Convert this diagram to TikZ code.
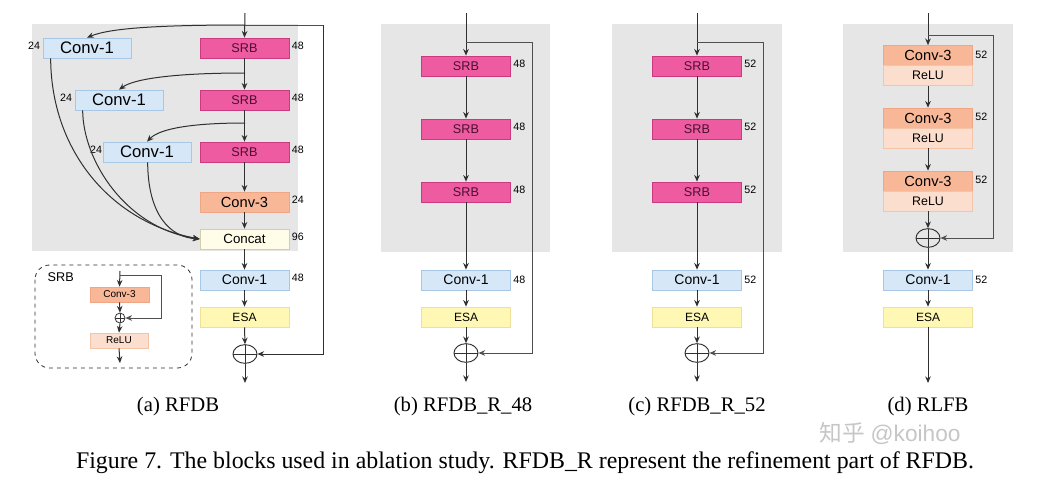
\documentclass[tikz,border=0pt]{standalone}
\usepackage{fontspec}
\setmainfont{Liberation Serif}
\setsansfont{Liberation Sans}
\newfontfamily\cjkfont{Noto Sans CJK SC}
\usetikzlibrary{arrows.meta,shapes.geometric,calc}
\definecolor{bggray}{HTML}{E6E6E6}
\definecolor{srbfill}{HTML}{EE5BA0}
\definecolor{srbdraw}{HTML}{C93A80}
\definecolor{srbtext}{HTML}{4A1030}
\definecolor{c1fill}{HTML}{D6E7F7}
\definecolor{c1draw}{HTML}{A8C6E6}
\definecolor{c3fill}{HTML}{F8B898}
\definecolor{c3draw}{HTML}{F0A584}
\definecolor{relufill}{HTML}{FBDECD}
\definecolor{reludraw}{HTML}{F3C4A8}
\definecolor{catfill}{HTML}{FFFDE8}
\definecolor{catdraw}{HTML}{CFCFA8}
\definecolor{esafill}{HTML}{FFF8B4}
\definecolor{esadraw}{HTML}{EEE098}
\definecolor{linec}{HTML}{303030}
\tikzset{
  box/.style={draw, line width=0.5pt, inner sep=0pt, minimum height=15pt, font=\sffamily},
  srbbox/.style={box, fill=srbfill, draw=srbdraw, minimum width=66.75pt, text=srbtext, font=\sffamily\fontsize{9.5}{10}\selectfont},
  cvonebox/.style={box, fill=c1fill, draw=c1draw, minimum width=66.75pt, font=\sffamily\fontsize{10.5}{11}\selectfont},
  cvleftbox/.style={box, fill=c1fill, draw=c1draw, minimum width=66pt, font=\sffamily\fontsize{12.5}{13}\selectfont},
  cvthreebox/.style={box, fill=c3fill, draw=c3draw, minimum width=66.75pt, font=\sffamily\fontsize{11}{12}\selectfont},
  relubox/.style={box, fill=relufill, draw=reludraw, minimum width=66.75pt, font=\sffamily\fontsize{9.3}{10}\selectfont},
  catbox/.style={box, fill=catfill, draw=catdraw, minimum width=66.75pt, font=\sffamily\fontsize{10}{11}\selectfont},
  esabox/.style={box, fill=esafill, draw=esadraw, minimum width=66.75pt, font=\sffamily\fontsize{9}{10}\selectfont},
  smallc3/.style={box, fill=c3fill, draw=c3draw, minimum width=44.25pt, minimum height=11.25pt, font=\sffamily\fontsize{7.5}{8}\selectfont},
  smallrelu/.style={box, fill=relufill, draw=reludraw, minimum width=43.5pt, minimum height=11.25pt, font=\sffamily\fontsize{7.5}{8}\selectfont},
  chlabel/.style={font=\sffamily\fontsize{8}{9}\selectfont, inner sep=1pt},
  plusnode/.style={ellipse, draw=linec, line width=0.7pt, minimum width=18pt, minimum height=14pt, inner sep=0pt,
    path picture={\draw[linec, line width=0.6pt] (path picture bounding box.north) -- (path picture bounding box.south)
      (path picture bounding box.west) -- (path picture bounding box.east);}},
  smallplus/.style={circle, draw=linec, line width=0.6pt, minimum size=7.5pt, inner sep=0pt,
    path picture={\draw[linec, line width=0.5pt] (path picture bounding box.north) -- (path picture bounding box.south)
      (path picture bounding box.west) -- (path picture bounding box.east);}},
  arr/.style={-{Stealth[length=5pt,width=4.2pt]}, draw=linec, line width=0.75pt},
  ln/.style={draw=linec, line width=0.75pt},
  skipln/.style={draw=linec!85, line width=0.75pt},
  subcap/.style={font=\fontsize{15.5}{17}\selectfont},
  bgpanel/.style={fill=bggray, draw=none}
}
\begin{document}
\begin{tikzpicture}[x=0.75pt,y=-0.75pt]
\useasboundingbox (0,0) rectangle (1042,486);
\fill[white] (0,0) rectangle (1042,486);

% ================= (a) RFDB =================
\fill[bggray] (32,24) rectangle (298,251);
\node[srbbox] (srbA1) at (244.5,48) {SRB};
\node[srbbox] (srbA2) at (244.5,100) {SRB};
\node[srbbox] (srbA3) at (244.5,152) {SRB};
\node[cvthreebox] (cthA) at (244.5,202) {Conv-3};
\node[catbox] (catA) at (244.5,239) {Concat};
\node[cvleftbox] (cl1) at (87,48) {Conv-1};
\node[cvleftbox] (cl2) at (119,100) {Conv-1};
\node[cvleftbox] (cl3) at (147,152) {Conv-1};
\node[cvonebox] (coA) at (244.5,280) {Conv-1};
\node[esabox] (esaA) at (244.5,317) {ESA};
\node[plusnode] (plA) at (245,354) {};

\node[chlabel, anchor=west] (lA1) at ($(srbA1.east)+(1,-2)$) {48};
\node[chlabel, anchor=west] (lA2) at ($(srbA2.east)+(1,-2)$) {48};
\node[chlabel, anchor=west] (lA3) at ($(srbA3.east)+(1,-2)$) {48};
\node[chlabel, anchor=west] (lA4) at ($(cthA.east)+(1,-2)$) {24};
\node[chlabel, anchor=west] (lA5) at ($(catA.east)+(1,-2)$) {96};
\node[chlabel, anchor=west] (lA6) at ($(coA.east)+(1,-2)$) {48};
\node[chlabel, anchor=east] (lL1) at ($(cl1.west)+(-1,-2)$) {24};
\node[chlabel, anchor=east] (lL2) at ($(cl2.west)+(-1,-2)$) {24};
\node[chlabel, anchor=east] (lL3) at ($(cl3.west)+(1,-2)$) {24};

\coordinate (inA) at (245,13);
\coordinate (jA1) at (245,25);
\coordinate (jA2) at (245,73);
\coordinate (jA3) at (245,123);
\coordinate (skA1) at (323,25);
\coordinate (skA2) at (323,354);
\coordinate (outA) at (245,383);

\draw[arr] (inA) -- (srbA1.north);
\draw[arr] (srbA1.south) -- (srbA2.north);
\draw[arr] (srbA2.south) -- (srbA3.north);
\draw[arr] (srbA3.south) -- (cthA.north);
\draw[arr] (cthA.south) -- (catA.north);
\draw[arr] (catA.south) -- (coA.north);
\draw[arr] (coA.south) -- (esaA.north);
\draw[arr] (esaA.south) -- (plA.north);
\draw[arr] (plA.south) -- (outA);
\draw[skipln] (jA1) -- (skA1);
\draw[arr] (skA1) -- (skA2) -- (plA.east);

\draw[arr] (jA1) .. controls (160,25) and (110,28) .. (cl1.north);
\draw[arr] (jA2) .. controls (180,73) and (135,78) .. (cl2.north);
\draw[arr] (jA3) .. controls (195,123) and (160,128) .. (cl3.north);

\draw[arr] ($(cl1.south west)+(8,0)$) .. controls (51,150) and (110,222) .. (catA.west);
\draw[arr] ($(cl2.south west)+(8,0)$) .. controls (83,160) and (125,228) .. (catA.west);
\draw[arr] ($(cl3.south west)+(45,0)$) .. controls (148,215) and (170,237) .. (catA.west);

% SRB inset
\draw[dashed, draw=linec, line width=0.6pt, rounded corners=11pt] (35,265) rectangle (192,368);
\node[font=\sffamily\fontsize{9.5}{10}\selectfont, anchor=west] (srbtitle) at (43,277) {SRB};
\node[smallc3] (sc3) at (119.5,294.5) {Conv-3};
\node[smallplus] (spl) at (120,318) {};
\node[smallrelu] (srl) at (119,340.5) {ReLU};
\coordinate (sin) at (120,271);
\coordinate (sj) at (120,275);
\coordinate (sk1) at (161,275);
\coordinate (sk2) at (161,318);
\coordinate (sout) at (120,363);
\draw[arr] (sin) -- (sc3.north);
\draw[arr] (sc3.south) -- (spl.north);
\draw[arr] (spl.south) -- (srl.north);
\draw[arr] (srl.south) -- (sout);
\draw[arr, draw=linec!85] (sj) -- (sk1) -- (sk2) -- (spl.east);

\node[subcap] (capA) at (178,407) {(a) RFDB};

% ================= (b) RFDB_R_48 =================
\fill[bggray] (381,24) rectangle (550,252);
\node[srbbox] (srbB1) at (466,66) {SRB};
\node[srbbox] (srbB2) at (466,129) {SRB};
\node[srbbox] (srbB3) at (466,192) {SRB};
\node[cvonebox] (coB) at (466,280) {Conv-1};
\node[esabox] (esaB) at (466,317) {ESA};
\node[plusnode] (plB) at (466,353) {};
\node[chlabel, anchor=west] (lB1) at ($(srbB1.east)+(1,-2)$) {48};
\node[chlabel, anchor=west] (lB2) at ($(srbB2.east)+(1,-2)$) {48};
\node[chlabel, anchor=west] (lB3) at ($(srbB3.east)+(1,-2)$) {48};
\node[chlabel, anchor=west] (lB4) at ($(coB.east)+(1,0)$) {48};
\coordinate (inB) at (466,13);
\coordinate (jB) at (466,42);
\coordinate (skB1) at (532,42);
\coordinate (skB2) at (532,353);
\coordinate (outB) at (466,382);
\draw[arr] (inB) -- (srbB1.north);
\draw[arr] (srbB1.south) -- (srbB2.north);
\draw[arr] (srbB2.south) -- (srbB3.north);
\draw[arr] (srbB3.south) -- (coB.north);
\draw[arr] (coB.south) -- (esaB.north);
\draw[arr] (esaB.south) -- (plB.north);
\draw[arr] (plB.south) -- (outB);
\draw[arr, draw=linec!85] (jB) -- (skB1) -- (skB2) -- (plB.east);
\node[subcap] (capB) at (463,407) {(b) RFDB\_R\_48};

% ================= (c) RFDB_R_52 =================
\fill[bggray] (612,24) rectangle (782,252);
\node[srbbox] (srbC1) at (697,66) {SRB};
\node[srbbox] (srbC2) at (697,129) {SRB};
\node[srbbox] (srbC3) at (697,192) {SRB};
\node[cvonebox] (coC) at (697,280) {Conv-1};
\node[esabox] (esaC) at (697,317) {ESA};
\node[plusnode] (plC) at (697,353) {};
\node[chlabel, anchor=west] (lC1) at ($(srbC1.east)+(1,-2)$) {52};
\node[chlabel, anchor=west] (lC2) at ($(srbC2.east)+(1,-2)$) {52};
\node[chlabel, anchor=west] (lC3) at ($(srbC3.east)+(1,-2)$) {52};
\node[chlabel, anchor=west] (lC4) at ($(coC.east)+(1,0)$) {52};
\coordinate (inC) at (697,13);
\coordinate (jC) at (697,42);
\coordinate (skC1) at (763,42);
\coordinate (skC2) at (763,353);
\coordinate (outC) at (697,382);
\draw[arr] (inC) -- (srbC1.north);
\draw[arr] (srbC1.south) -- (srbC2.north);
\draw[arr] (srbC2.south) -- (srbC3.north);
\draw[arr] (srbC3.south) -- (coC.north);
\draw[arr] (coC.south) -- (esaC.north);
\draw[arr] (esaC.south) -- (plC.north);
\draw[arr] (plC.south) -- (outC);
\draw[arr, draw=linec!85] (jC) -- (skC1) -- (skC2) -- (plC.east);
\node[subcap] (capC) at (697,407) {(c) RFDB\_R\_52};

% ================= (d) RLFB =================
\fill[bggray] (843,24) rectangle (1013,252);
\node[cvthreebox] (cD1) at (928,55.5) {Conv-3};
\node[relubox] (rD1) at (928,75.5) {ReLU};
\node[cvthreebox] (cD2) at (928,118) {Conv-3};
\node[relubox] (rD2) at (928,138) {ReLU};
\node[cvthreebox] (cD3) at (928,181) {Conv-3};
\node[relubox] (rD3) at (928,201) {ReLU};
\node[plusnode] (plD) at (928,238) {};
\node[cvonebox] (coD) at (928,280) {Conv-1};
\node[esabox] (esaD) at (928,317) {ESA};
\node[chlabel, anchor=west] (lD1) at ($(cD1.east)+(1,-1)$) {52};
\node[chlabel, anchor=west] (lD2) at ($(cD2.east)+(1,-1)$) {52};
\node[chlabel, anchor=west] (lD3) at ($(cD3.east)+(1,-1)$) {52};
\node[chlabel, anchor=west] (lD4) at ($(coD.east)+(1,0)$) {52};
\coordinate (inD) at (928,13);
\coordinate (jD) at (928,35);
\coordinate (skD1) at (993,35);
\coordinate (skD2) at (993,238);
\coordinate (outD) at (928,383);
\draw[arr] (inD) -- (cD1.north);
\draw[arr] (rD1.south) -- (cD2.north);
\draw[arr] (rD2.south) -- (cD3.north);
\draw[arr] (rD3.south) -- (plD.north);
\draw[arr] (plD.south) -- (coD.north);
\draw[arr] (coD.south) -- (esaD.north);
\draw[arr] (esaD.south) -- (outD);
\draw[arr, draw=linec!85] (jD) -- (skD1) -- (skD2) -- (plD.east);
\node[subcap] (capD) at (928,407) {(d) RLFB};

% ================= caption =================
\node[font=\fontsize{17.9}{19}\selectfont] (figcap) at (525,463) {Figure 7. The blocks used in ablation study. RFDB\_R represent the refinement part of RFDB.};
\node[text=gray!45, font=\fontsize{17}{18}\selectfont, anchor=west] (wm) at (815,434) {{\cjkfont 知乎} {\sffamily @koihoo}};
\end{tikzpicture}
\end{document}
